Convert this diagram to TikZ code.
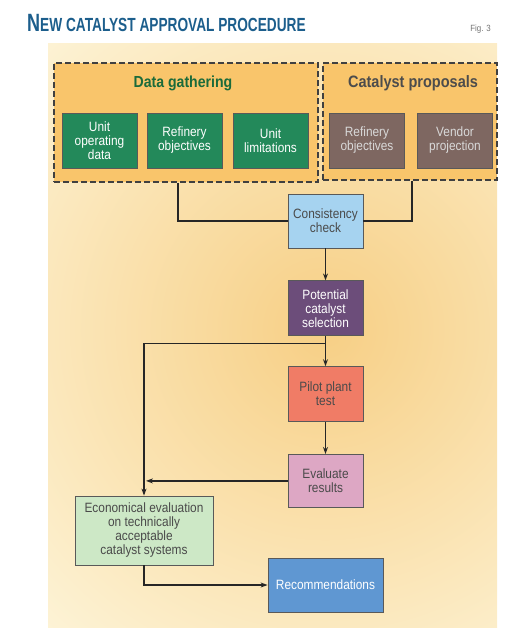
\documentclass[tikz,border=0pt]{standalone}
\usepackage{fontspec}
\setmainfont{Liberation Sans}[FakeStretch=0.88]
\newfontfamily\titlefont{Liberation Sans}[FakeStretch=0.72]
\usetikzlibrary{arrows.meta,positioning}

\definecolor{panel}{HTML}{FDF4D8}
\definecolor{glow}{HTML}{F7CF85}
\definecolor{groupfill}{HTML}{F9C56B}
\definecolor{datagreen}{HTML}{23895A}
\definecolor{darkgreen}{HTML}{1B6B3A}
\definecolor{propbrown}{HTML}{7E6761}
\definecolor{checkblue}{HTML}{A6D3F0}
\definecolor{selpurple}{HTML}{6C4D7A}
\definecolor{pilotred}{HTML}{F07C66}
\definecolor{evalpink}{HTML}{DDA7C4}
\definecolor{econgreen}{HTML}{CDE8C6}
\definecolor{recblue}{HTML}{5F97D2}
\definecolor{titleblue}{HTML}{1C5E8C}
\definecolor{textgray}{HTML}{4A4A4A}

\tikzset{
  stepbox/.style={draw=black!65, line width=0.8pt, minimum width=75pt,
    minimum height=55pt, align=center, inner sep=1pt,
    font=\fontsize{13.5}{14}\selectfont},
  groupbox/.style={draw=black!75, line width=1.3pt, dash pattern=on 6pt off 3pt,
    fill=groupfill},
  link/.style={line width=1.3pt, black!85},
  arrow/.style={link, -{Stealth[length=7pt,width=5pt]}}
}

\begin{document}
\begin{tikzpicture}[x=1pt,y=-1pt]
    \useasboundingbox (0,0) rectangle (529,640);

    % panel with the soft glow
    \fill[panel] (48,43) rectangle (497,627);
    \begin{scope}
    \clip (48,43) rectangle (497,627);
    \shade[inner color=glow, outer color=panel] (325,330) circle (420);
    \end{scope}

    % title
    \node[anchor=base west, inner sep=0pt, text=titleblue] (title) at (27,31)
        {\titlefont\bfseries\fontsize{25}{25}\selectfont N\fontsize{19}{19}\selectfont EW CATALYST APPROVAL PROCEDURE};
    \node[anchor=base east, inner sep=0pt, text=black!55] (fig) at (491,31)
        {\fontsize{9}{9}\selectfont Fig. 3};

    % groups
    \node[groupbox, minimum width=264pt, minimum height=119pt] (dg) at (186,122.5) {};
    \node[groupbox, minimum width=174pt, minimum height=117pt] (cp) at (410,121.5) {};
    \node[text=darkgreen, font=\bfseries\fontsize{16}{16}\selectfont] (dgtitle) at (183,83) {Data gathering};
    \node[text=black!70, font=\bfseries\fontsize{16.5}{16.5}\selectfont] (cptitle) at (413,83) {Catalyst proposals};

    \node[stepbox, fill=datagreen, text=white] (uod) at (99.5,140.5) {Unit\\operating\\data};
    \node[stepbox, fill=datagreen, text=white] (ro) at (184.5,140.5) {Refinery\\objectives};
    \node[stepbox, fill=datagreen, text=white] (ul) at (270.5,140.5) {Unit\\limitations};
    \node[stepbox, fill=propbrown, text=white!85!black] (cro) at (367,140.5) {Refinery\\objectives};
    \node[stepbox, fill=propbrown, text=white!85!black] (vp) at (455,140.5) {Vendor\\projection};

    % main chain
    \node[stepbox, fill=checkblue, text=textgray, minimum height=54pt] (cc) at (325.5,221) {Consistency\\check};
    \node[stepbox, fill=selpurple, text=white, below=32pt of cc] (pot) {Potential\\catalyst\\selection};
    \node[stepbox, fill=pilotred, text=textgray, below=30pt of pot] (pilot) {Pilot plant\\test};
    \node[stepbox, fill=evalpink, text=textgray, minimum height=53pt, below=32pt of pilot] (eval) {Evaluate\\results};
    \node[stepbox, fill=econgreen, text=textgray, minimum width=138pt, minimum height=69pt] (econ) at (144,530.5)
        {Economical evaluation\\on technically\\acceptable\\catalyst systems};
    \node[stepbox, fill=recblue, text=white, minimum width=115pt, minimum height=54pt] (rec) at (325.5,585) {Recommendations};

    % connectors
    \draw[link] ([xshift=-8pt]dg.south) |- (cc.west);
    \draw[link] ([xshift=2pt]cp.south) |- (cc.east);
    \draw[arrow] (cc) -- (pot);
    \coordinate (split) at ([yshift=-7pt]pot.south);
    \draw[arrow] (pot.south) -- (pilot.north);
    \draw[arrow] (split) -| (econ.north);
    \draw[arrow] (pilot) -- (eval);
    \draw[arrow] (eval.west) -- ([xshift=2pt]eval.west -| econ.north);
    \draw[arrow] (econ.south) |- (rec.west);
\end{tikzpicture}
\end{document}
